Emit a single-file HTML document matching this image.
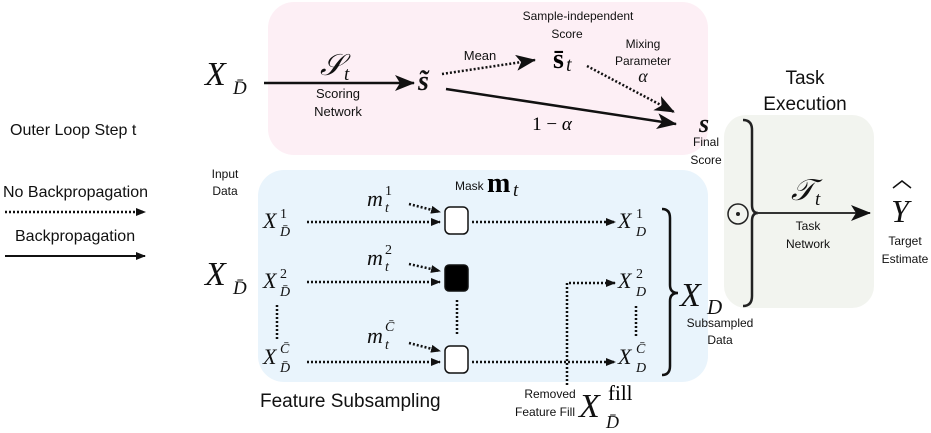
<!DOCTYPE html>
<html><head><meta charset="utf-8"><style>
html,body{margin:0;padding:0;background:#fff;}
svg{display:block;}
.s{font-family:"Liberation Sans",sans-serif;fill:#111;}
.m{font-family:"Liberation Serif",serif;font-style:italic;fill:#111;}
</style></head><body>
<svg width="931" height="433" viewBox="0 0 931 433" xmlns="http://www.w3.org/2000/svg">
<defs>
<marker id="a" markerWidth="10" markerHeight="8" refX="9" refY="4" orient="auto" markerUnits="userSpaceOnUse"><path d="M0,0 L10,4 L0,8 Z" fill="#111"/></marker>
<marker id="b" markerWidth="20" markerHeight="16" refX="19" refY="8" orient="auto" markerUnits="userSpaceOnUse"><path d="M0,0 L20,8 L0,16 L5,8 Z" fill="#111"/></marker>
</defs>
<rect x="268" y="2" width="440" height="153" rx="26" fill="#fdeff5"/>
<rect x="258" y="170" width="450" height="212" rx="26" fill="#e9f4fc"/>
<rect x="724" y="115" width="150" height="193" rx="22" fill="#f2f4ef"/>

<!-- top -->
<text class="m" x="205" y="85" font-size="34">X</text><text class="m" x="233" y="94" font-size="19">D̄</text>
<line x1="264" y1="83" x2="414" y2="83" stroke="#111" stroke-width="2.5" marker-end="url(#b)"/>
<text class="m" x="320" y="75" font-size="30">𝒮</text><text class="m" x="344" y="80" font-size="19">t</text>
<text class="s" x="338" y="98" font-size="13" text-anchor="middle">Scoring</text>
<text class="s" x="338" y="116" font-size="13" text-anchor="middle">Network</text>
<text class="m" x="418" y="90" font-size="28" font-weight="bold">s̃</text>
<line x1="442" y1="74" x2="535" y2="60" stroke="#111" stroke-width="2.5" stroke-dasharray="2,2" marker-end="url(#b)"/>
<text class="s" x="480" y="60" font-size="13" text-anchor="middle">Mean</text>
<text class="s" x="578" y="20" font-size="12" text-anchor="middle">Sample-independent</text>
<text class="s" x="567" y="38" font-size="12" text-anchor="middle">Score</text>
<text x="553" y="68" font-size="28" font-weight="bold" font-family="Liberation Serif,serif">s̄</text><text class="m" x="566" y="71" font-size="20">t</text>
<line x1="587" y1="66" x2="674" y2="112" stroke="#111" stroke-width="2.5" stroke-dasharray="2,2" marker-end="url(#b)"/>
<text class="s" x="643" y="48" font-size="12" text-anchor="middle">Mixing</text>
<text class="s" x="643" y="65" font-size="12" text-anchor="middle">Parameter</text>
<text class="m" x="643" y="82" font-size="18" text-anchor="middle">α</text>
<line x1="446" y1="89" x2="676" y2="124" stroke="#111" stroke-width="2.5" marker-end="url(#b)"/>
<text x="552" y="130" font-size="19" font-family="Liberation Serif,serif" text-anchor="middle">1 − <tspan font-style="italic">α</tspan></text>
<text class="m" x="704" y="132" font-size="26" font-weight="bold" text-anchor="middle">s</text>
<text class="s" x="706" y="146" font-size="12" text-anchor="middle">Final</text>
<text class="s" x="706" y="164" font-size="12" text-anchor="middle">Score</text>

<!-- left legend -->
<text class="s" x="10" y="135" font-size="16">Outer Loop Step t</text>
<text class="s" x="3" y="197" font-size="16">No Backpropagation</text>
<line x1="5" y1="212" x2="145" y2="212" stroke="#111" stroke-width="2.5" stroke-dasharray="2,2" marker-end="url(#a)"/>
<text class="s" x="15" y="241" font-size="16">Backpropagation</text>
<line x1="5" y1="256" x2="145" y2="256" stroke="#111" stroke-width="2" marker-end="url(#a)"/>
<text class="s" x="225" y="178" font-size="12" text-anchor="middle">Input</text>
<text class="s" x="225" y="195" font-size="12" text-anchor="middle">Data</text>
<text class="m" x="205" y="285" font-size="34">X</text><text class="m" x="233" y="294" font-size="19">D̄</text>

<!-- rows -->
<g class="m" font-size="22">
<text x="263" y="228">X</text><text x="280" y="218" font-size="14" font-style="normal">1</text><text x="280" y="236" font-size="14">D̄</text>
<text x="263" y="288">X</text><text x="280" y="278" font-size="14" font-style="normal">2</text><text x="280" y="296" font-size="14">D̄</text>
<text x="263" y="364">X</text><text x="280" y="353" font-size="14">C̄</text><text x="280" y="372" font-size="14">D̄</text>
<text x="367" y="206">m</text><text x="385" y="195" font-size="14" font-style="normal">1</text><text x="385" y="212" font-size="14">t</text>
<text x="367" y="265">m</text><text x="385" y="254" font-size="14" font-style="normal">2</text><text x="385" y="271" font-size="14">t</text>
<text x="367" y="343">m</text><text x="385" y="331" font-size="14">C̄</text><text x="385" y="349" font-size="14">t</text>
<text x="618" y="228">X</text><text x="636" y="218" font-size="14" font-style="normal">1</text><text x="636" y="236" font-size="14">D</text>
<text x="618" y="288">X</text><text x="636" y="278" font-size="14" font-style="normal">2</text><text x="636" y="296" font-size="14">D</text>
<text x="618" y="364">X</text><text x="636" y="353" font-size="14">C̄</text><text x="636" y="372" font-size="14">D</text>
</g>
<text class="s" x="455" y="190" font-size="12">Mask</text>
<text x="487" y="192" font-size="28" font-weight="bold" font-family="Liberation Serif,serif">m</text><text class="m" x="513" y="196" font-size="19">t</text>
<g stroke="#111" stroke-width="2.5" stroke-dasharray="2,2" fill="none">
<line x1="307" y1="222" x2="440" y2="222" marker-end="url(#a)"/>
<line x1="307" y1="282" x2="440" y2="282" marker-end="url(#a)"/>
<line x1="307" y1="362" x2="440" y2="362" marker-end="url(#a)"/>
<line x1="409" y1="204" x2="440" y2="212" marker-end="url(#a)"/>
<line x1="409" y1="264" x2="440" y2="271" marker-end="url(#a)"/>
<line x1="409" y1="343" x2="440" y2="351" marker-end="url(#a)"/>
<line x1="472" y1="222" x2="615" y2="222" marker-end="url(#a)"/>
<line x1="472" y1="362" x2="615" y2="362" marker-end="url(#a)"/>
<polyline points="567,385 567,283 615,283" marker-end="url(#a)"/>
<line x1="277" y1="305" x2="277" y2="340"/>
<line x1="457" y1="300" x2="457" y2="334"/>
<line x1="636" y1="306" x2="636" y2="338"/>
</g>
<rect x="445" y="207" width="23" height="27" rx="5" fill="#fff" stroke="#111" stroke-width="1.5"/>
<rect x="445" y="265" width="23" height="26" rx="4" fill="#000" stroke="#111" stroke-width="1.5"/>
<rect x="445" y="346" width="23" height="27" rx="5" fill="#fff" stroke="#111" stroke-width="1.5"/>
<path d="M662,209 Q670,209 670,218 L670,285 Q670,293 678,293 Q670,293 670,301 L670,366 Q670,375 662,375" stroke="#111" stroke-width="2.5" fill="none"/>
<text class="m" x="680" y="306" font-size="34">X</text><text class="m" x="707" y="314" font-size="21">D</text>
<text class="s" x="720" y="327" font-size="12" text-anchor="middle">Subsampled</text>
<text class="s" x="720" y="344" font-size="12" text-anchor="middle">Data</text>
<text class="s" x="260" y="407" font-size="19">Feature Subsampling</text>
<text class="s" x="550" y="398" font-size="12" text-anchor="middle">Removed</text>
<text class="s" x="545" y="416" font-size="12" text-anchor="middle">Feature Fill</text>
<text class="m" x="579" y="417" font-size="34">X</text><text x="608" y="400" font-size="21" font-family="Liberation Serif,serif">fill</text><text class="m" x="606" y="428" font-size="18">D̄</text>

<!-- task -->
<text class="s" x="805" y="84" font-size="19" text-anchor="middle">Task</text>
<text class="s" x="805" y="110" font-size="19" text-anchor="middle">Execution</text>
<circle cx="738" cy="214" r="10" fill="none" stroke="#222" stroke-width="1.5"/><circle cx="738" cy="214" r="2" fill="#222"/>
<path d="M743,120 Q752,120 752,130 L752,205 Q752,213 758,213 Q752,213 752,221 L752,296 Q752,306 743,306" stroke="#222" stroke-width="2.5" fill="none"/>
<line x1="757" y1="213" x2="870" y2="213" stroke="#333" stroke-width="2" marker-end="url(#b)"/>
<text class="m" x="791" y="200" font-size="30">𝒯</text><text class="m" x="815" y="205" font-size="19">t</text>
<text class="s" x="808" y="230" font-size="12" text-anchor="middle">Task</text>
<text class="s" x="808" y="248" font-size="12" text-anchor="middle">Network</text>
<text class="m" x="900" y="222" font-size="32" text-anchor="middle">Y</text>
<path d="M893,188 L902,181 L911,188" stroke="#111" stroke-width="1.5" fill="none"/>
<text class="s" x="905" y="245" font-size="12" text-anchor="middle">Target</text>
<text class="s" x="905" y="263" font-size="12" text-anchor="middle">Estimate</text>
</svg>
</body></html>
